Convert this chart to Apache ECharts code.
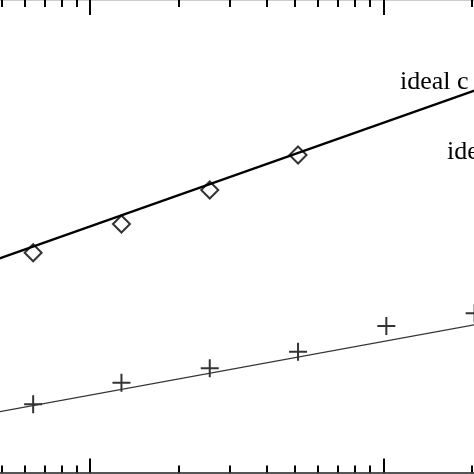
<!DOCTYPE html>
<html>
<head>
<meta charset="utf-8">
<script src="https://cdn.jsdelivr.net/npm/echarts@6/dist/echarts.min.js"></script>
<style>
  html, body { margin: 0; padding: 0; background: #fff; }
  #chart { width: 474px; height: 474px; }
</style>
</head>
<body>
<div id="chart"></div>
<script>
// values (log x, log y)
const nValues = [64, 128, 256, 512, 1024, 2048];
const diamondValues = [57.0, 107.8, 229.4, 499];
const plusValues = [1.97, 3.18, 4.38, 6.33, 11.2, 14.85];
const idealUpperN = [32, 4096];
const idealUpper = [32.7, 4180];
const idealLowerN = [32, 4096];
const idealLower = [1.335, 16.48];
const majorTicks = [100, 1000];
const minorTicks = [50, 60, 70, 80, 90, 200, 300, 400, 500, 600, 700, 800, 900, 2000];
const labelTexts = ['ideal c', 'ide'];

const xMin = 49.33, xMax = 2038;
const yMin = 0.433, yMax = 15590;
const lMin = Math.log10(xMin), lMax = Math.log10(xMax);

function zip(xs, ys) {
  return ys.map((v, i) => [xs[i], v]);
}

// decorative axes in log10 space, only used for the tick marks
function tickAxis(pos, values, len, line) {
  return {
    type: 'value',
    position: pos,
    min: lMin,
    max: lMax,
    axisLine: line ? { show: true, onZero: false, lineStyle: line } : { show: false, onZero: false },
    axisTick: {
      show: true,
      inside: true,
      length: len,
      customValues: values.map(v => Math.log10(v)),
      lineStyle: { color: '#000', width: 2 }
    },
    axisLabel: { show: false },
    splitLine: { show: false }
  };
}

const chart = echarts.init(document.getElementById('chart'));
chart.setOption({
  animation: false,
  grid: { left: 0, right: 0, top: 0, bottom: 1.5 },
  xAxis: [
    { type: 'log', min: xMin, max: xMax, show: false },
    tickAxis('bottom', majorTicks, 14, { color: '#555', width: 2 }),
    tickAxis('bottom', minorTicks, 7, null),
    tickAxis('top', majorTicks, 15, { color: '#ccc', width: 1 }),
    tickAxis('top', minorTicks, 7, null)
  ],
  yAxis: { type: 'log', min: yMin, max: yMax, show: false },
  series: [
    {
      type: 'line',
      data: zip(idealUpperN, idealUpper),
      symbol: 'none',
      lineStyle: { color: '#000', width: 2.2 }
    },
    {
      type: 'line',
      data: zip(idealLowerN, idealLower),
      symbol: 'none',
      lineStyle: { color: '#333', width: 1.3 }
    },
    {
      type: 'scatter',
      data: zip(nValues, diamondValues),
      symbol: 'diamond',
      symbolSize: 17,
      clip: false,
      itemStyle: { color: 'rgba(0,0,0,0)', borderColor: '#000', borderWidth: 2 }
    },
    {
      type: 'scatter',
      data: zip(nValues, plusValues),
      symbol: 'path://M0,10L20,10M10,0L10,20',
      symbolSize: 18,
      clip: false,
      itemStyle: { color: 'none', borderColor: '#000', borderWidth: 2 }
    }
  ],
  graphic: [
    {
      type: 'text', x: 400, y: 95,
      style: { text: labelTexts[0], font: '26px "Liberation Serif"', fill: '#000', verticalAlign: 'bottom' }
    },
    {
      type: 'text', x: 447, y: 165,
      style: { text: labelTexts[1], font: '26px "Liberation Serif"', fill: '#000', verticalAlign: 'bottom' }
    }
  ]
});
</script>
</body>
</html>
